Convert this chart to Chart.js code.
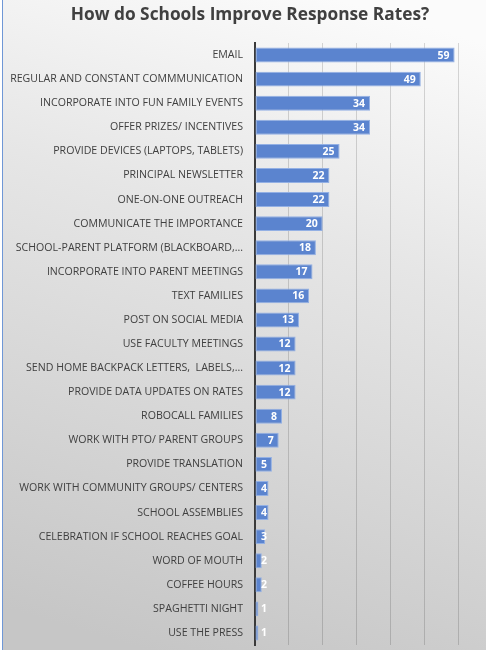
<!DOCTYPE html>
<html>
<head>
<meta charset="utf-8">
<script src="https://cdn.jsdelivr.net/npm/chart.js@4/dist/chart.umd.min.js"></script>
<style>
html,body{margin:0;padding:0;background:#fff;}
#wrap{position:relative;width:486px;height:650px;}
canvas{display:block;}
</style>
</head>
<body>
<div id="wrap"><canvas id="c" width="486" height="650"></canvas></div>
<script>
const titleText = "How do Schools Improve Response Rates?";
const categories = [
  "EMAIL",
  "REGULAR AND CONSTANT COMMMUNICATION",
  "INCORPORATE INTO FUN FAMILY EVENTS",
  "OFFER PRIZES/ INCENTIVES",
  "PROVIDE DEVICES (LAPTOPS, TABLETS)",
  "PRINCIPAL NEWSLETTER",
  "ONE-ON-ONE OUTREACH",
  "COMMUNICATE THE IMPORTANCE",
  "SCHOOL-PARENT PLATFORM (BLACKBOARD,...",
  "INCORPORATE INTO PARENT MEETINGS",
  "TEXT FAMILIES",
  "POST ON SOCIAL MEDIA",
  "USE FACULTY MEETINGS",
  "SEND HOME BACKPACK LETTERS,  LABELS,...",
  "PROVIDE DATA UPDATES ON RATES",
  "ROBOCALL FAMILIES",
  "WORK WITH PTO/ PARENT GROUPS",
  "PROVIDE TRANSLATION",
  "WORK WITH COMMUNITY GROUPS/ CENTERS",
  "SCHOOL ASSEMBLIES",
  "CELEBRATION IF SCHOOL REACHES GOAL",
  "WORD OF MOUTH",
  "COFFEE HOURS",
  "SPAGHETTI NIGHT",
  "USE THE PRESS"
];
const responses = [59, 49, 34, 34, 25, 22, 22, 20, 18, 17, 16, 13, 12, 12, 12, 8, 7, 5, 4, 4, 3, 2, 2, 1, 1];
const axisMin = 0;
const axisMax = 60;
const axisStep = 10;

const bgPlugin = {
  id: 'bg',
  beforeDraw(chart) {
    const ctx = chart.ctx;
    const w = chart.width, h = chart.height;
    ctx.save();
    const g = ctx.createLinearGradient(w * 0.7, 0, w * 0.3, h);
    g.addColorStop(0, '#fbfbfb');
    g.addColorStop(0.35, '#e6e6e6');
    g.addColorStop(1, '#c6c6c6');
    ctx.fillStyle = g;
    ctx.fillRect(0, 0, w, h);
    ctx.fillStyle = '#ffffff';
    ctx.fillRect(0, 0, 2, h);
    ctx.strokeStyle = '#6f97d6';
    ctx.lineWidth = 1;
    ctx.beginPath();
    ctx.moveTo(2.5, 0);
    ctx.lineTo(2.5, h);
    ctx.stroke();
    ctx.fillStyle = '#404040';
    ctx.font = 'bold 17.3px "Open Sans", sans-serif';
    ctx.textAlign = 'center';
    ctx.textBaseline = 'middle';
    ctx.fillText(titleText, 250, 15.5);
    ctx.restore();
  },
  afterDatasetsDraw(chart) {
    const ctx = chart.ctx;
    const meta = chart.getDatasetMeta(0);
    const x0 = chart.scales.x.getPixelForValue(0);
    ctx.save();
    ctx.font = 'bold 10.5px "Open Sans", sans-serif';
    ctx.fillStyle = '#ffffff';
    ctx.textBaseline = 'middle';
    ctx.textAlign = 'left';
    meta.data.forEach((bar, i) => {
      const txt = String(chart.data.datasets[0].data[i]);
      const tw = ctx.measureText(txt).width;
      let left = bar.x - 5 - tw;
      if (left < x0 + 6) left = x0 + 6;
      ctx.fillText(txt, left, bar.y + 0.5);
    });
    ctx.restore();
  }
};

new Chart(document.getElementById('c'), {
  type: 'bar',
  data: {
    labels: categories,
    datasets: [{
      data: responses,
      backgroundColor: '#5b84cf',
      borderColor: '#93b0e4',
      borderWidth: 1,
      borderSkipped: false,
      categoryPercentage: 1,
      barPercentage: 0.62
    }]
  },
  options: {
    indexAxis: 'y',
    responsive: false,
    animation: false,
    devicePixelRatio: 1,
    layout: { padding: { top: 43, bottom: 5, left: 4, right: 28 } },
    plugins: {
      legend: { display: false },
      title: { display: false },
      tooltip: { enabled: false }
    },
    scales: {
      x: {
        min: axisMin,
        max: axisMax,
        ticks: { display: false, stepSize: axisStep },
        grid: { color: 'rgba(0,0,0,0.15)', lineWidth: 1, drawTicks: false },
        border: { display: false },
        afterFit(scale) { scale.height = 0; scale.paddingLeft = 0; scale.paddingRight = 0; }
      },
      y: {
        ticks: {
          color: '#404040',
          font: { family: '"Open Sans", sans-serif', size: 10.6 },
          padding: 12,
          autoSkip: false
        },
        grid: { display: false, drawTicks: false },
        border: { display: true, color: '#3a3a3a', width: 2 },
        afterFit(scale) { scale.width = 251; scale.paddingTop = 0; scale.paddingBottom = 0; }
      }
    }
  },
  plugins: [bgPlugin]
});
</script>
</body>
</html>
